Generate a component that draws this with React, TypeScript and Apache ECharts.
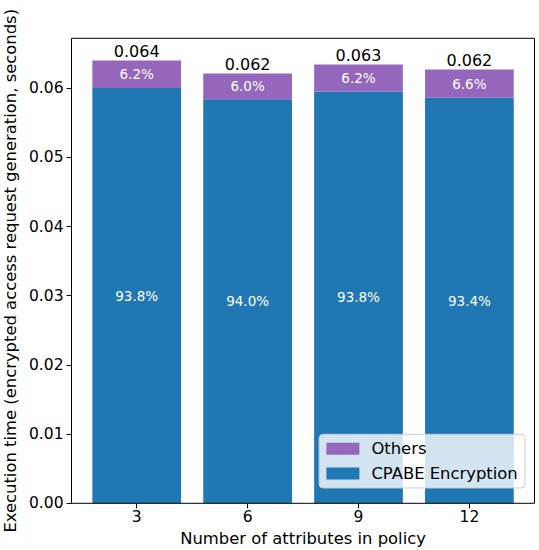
import React, { useEffect, useRef } from 'react';
import * as echarts from 'echarts';

// Values
const categories = ['3', '6', '9', '12'];
const cpabeValues = [0.06, 0.0584, 0.0595, 0.0586];
const othersValues = [0.004, 0.0037, 0.0039, 0.0041];
const totalLabels = ['0.064', '0.062', '0.063', '0.062'];
const cpabePct = ['93.8%', '94.0%', '93.8%', '93.4%'];
const othersPct = ['6.2%', '6.0%', '6.2%', '6.6%'];
const yTicks = [0, 0.01, 0.02, 0.03, 0.04, 0.05, 0.06];

const FONT = 'DejaVu Sans';
const BLUE = '#1f77b4';
const PURPLE = '#9467bd';

const Y_MAX = 0.0672;

const App: React.FC = () => {
  const chartRef = useRef<HTMLDivElement>(null);

  useEffect(() => {
    document.body.style.margin = '0';
    if (!chartRef.current) return;
    const chart = echarts.init(chartRef.current, undefined, { renderer: 'svg' });

    const pctLabel = (arr: string[]) => ({
      show: true,
      position: 'inside' as const,
      color: '#fff',
      fontFamily: FONT,
      fontSize: 13.5,
      formatter: (p: any) => arr[p.dataIndex],
    });

    const option: echarts.EChartsOption = {
      animation: false,
      backgroundColor: '#fff',
      textStyle: { fontFamily: FONT },
      grid: [
        // bar area (matplotlib-like 5% side margins live in grid 1)
        {
          left: 81.25,
          right: 14.15,
          top: 38.3,
          bottom: 46.7,
          outerBoundsMode: 'none',
        },
        // axes frame
        {
          left: 71.5,
          right: 4.5,
          top: 38.3,
          bottom: 46.7,
          show: true,
          borderColor: '#000',
          borderWidth: 1,
          backgroundColor: 'transparent',
          outerBoundsMode: 'none',
          z: 5,
        },
      ] as any,
      legend: {
        data: ['Others', 'CPABE Encryption'],
        orient: 'vertical',
        right: 14,
        bottom: 62,
        itemWidth: 33,
        itemHeight: 12,
        itemGap: 6.7,
        padding: [5.5, 7.3],
        icon: 'rect',
        backgroundColor: 'rgba(255,255,255,0.8)',
        borderColor: '#cccccc',
        borderWidth: 1,
        borderRadius: 4,
        textStyle: {
          fontFamily: FONT,
          fontSize: 16.4,
          lineHeight: 18,
          color: '#000',
          padding: [0, 0, 0, 7],
        },
      },
      xAxis: [
        {
          type: 'category',
          gridIndex: 0,
          data: categories,
          name: 'Number of attributes in policy',
          nameLocation: 'middle',
          nameGap: 24,
          nameTextStyle: { fontFamily: FONT, fontSize: 16.4, color: '#000' },
          axisLine: { show: false },
          axisTick: { show: true, alignWithLabel: true, length: 5, lineStyle: { color: '#000' } },
          axisLabel: { margin: 6, fontFamily: FONT, fontSize: 15.5, color: '#000' },
          splitLine: { show: false },
        },
        { type: 'value', gridIndex: 1, show: false },
      ],
      yAxis: [
        {
          type: 'value',
          gridIndex: 0,
          min: 0,
          max: Y_MAX,
          offset: 9.75,
          name: 'Execution time (encrypted access request generation, seconds)',
          nameLocation: 'middle',
          nameGap: 50,
          nameTextStyle: { fontFamily: FONT, fontSize: 16.4, color: '#000' },
          axisLine: { show: false, onZero: false },
          axisTick: { show: true, length: 5, lineStyle: { color: '#000' }, customValues: yTicks } as any,
          axisLabel: {
            customValues: yTicks,
            margin: 8,
            fontFamily: FONT,
            fontSize: 15.5,
            color: '#000',
            formatter: (v: number) => v.toFixed(2),
          } as any,
          splitLine: { show: false },
        },
        { type: 'value', gridIndex: 1, show: false },
      ],
      series: [
        {
          name: 'CPABE Encryption',
          type: 'bar',
          stack: 'total',
          barWidth: '80%',
          itemStyle: { color: BLUE },
          data: cpabeValues,
          label: pctLabel(cpabePct),
        },
        {
          name: 'Others',
          type: 'bar',
          stack: 'total',
          barWidth: '80%',
          itemStyle: { color: PURPLE },
          data: othersValues,
          label: pctLabel(othersPct),
        },
        {
          name: 'Total',
          type: 'bar',
          stack: 'total',
          barWidth: '80%',
          itemStyle: { color: 'transparent' },
          data: categories.map(() => 0),
          label: {
            show: true,
            position: 'top',
            distance: 1,
            color: '#000',
            fontFamily: FONT,
            fontSize: 16,
            formatter: (p: any) => totalLabels[p.dataIndex],
          },
        },
      ],
    };

    chart.setOption(option);
    return () => {
      chart.dispose();
    };
  }, []);

  return <div ref={chartRef} style={{ width: 539, height: 550 }} />;
};

export default App;
